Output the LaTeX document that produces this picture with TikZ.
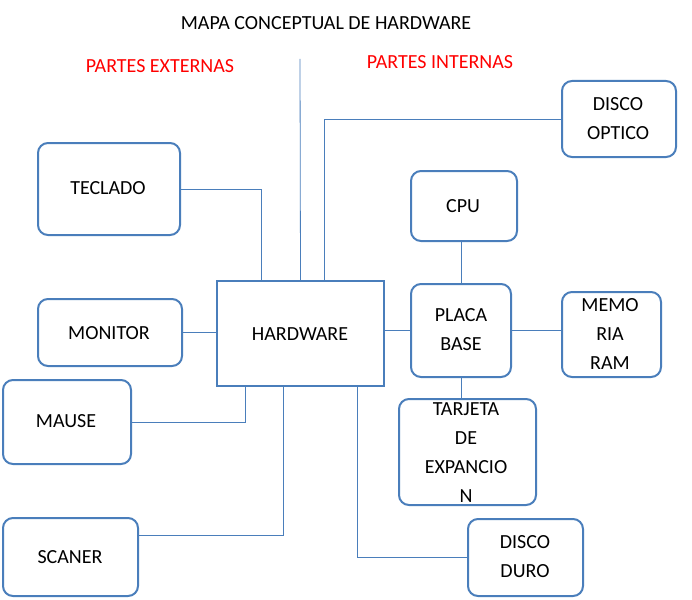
\documentclass[tikz,border=0pt]{standalone}
\usepackage{fontspec}
\setmainfont{Carlito}
\begin{document}
\begin{tikzpicture}[x=1pt,y=-1pt,
  bx/.style={draw=boxblue,line width=2pt,rounded corners=10pt,inner sep=0pt},
  hw/.style={draw=boxblue,line width=2.5pt,inner sep=0pt},
  tx/.style={font=\fontsize{20}{29}\selectfont,align=center,inner sep=0pt},
  ln/.style={draw=lineblue,line width=0.8pt}]
\definecolor{boxblue}{HTML}{4A7EBB}
\definecolor{lineblue}{HTML}{4A7EBB}
\useasboundingbox (0,0) rectangle (692,599);
\node[tx] (title) at (326,23) {MAPA CONCEPTUAL DE HARDWARE};
\node[tx,text=red] (ext) at (160,66) {PARTES EXTERNAS};
\node[tx,text=red] (int) at (440,62) {PARTES INTERNAS};
\coordinate (top) at (300,59);
% boxes
\node[hw,minimum width=167,minimum height=105] (hw) at (300.5,333.5) {};
\node[bx,minimum width=142,minimum height=92] (tec) at (109,189) {};
\node[bx,minimum width=144,minimum height=67] (mon) at (110,332.5) {};
\node[bx,minimum width=128,minimum height=84] (mau) at (67,422) {};
\node[bx,minimum width=135,minimum height=78] (sca) at (70.5,557) {};
\node[bx,minimum width=114,minimum height=76] (dop) at (619,119) {};
\node[bx,minimum width=106,minimum height=70] (cpu) at (464,206) {};
\node[bx,minimum width=100,minimum height=93] (pla) at (461,330.5) {};
\node[bx,minimum width=99,minimum height=85] (ram) at (611.5,334.5) {};
\node[bx,minimum width=137,minimum height=106] (tar) at (467.5,452) {};
\node[bx,minimum width=115,minimum height=77] (ddu) at (525.5,557.5) {};
% texts
\node[tx] (ttec) at (108,188) {TECLADO};
\node[tx] (tmon) at (109,333) {MONITOR};
\node[tx] (tmau) at (66,421) {MAUSE};
\node[tx] (tsca) at (70,557) {SCANER};
\node[tx] (thw) at (300,334) {HARDWARE};
\node[tx] (tdop) at (618,119) {DISCO\\OPTICO};
\node[tx] (tcpu) at (463,206) {CPU};
\node[tx] (tpla) at (461,330) {PLACA\\BASE};
\node[tx] (tram) at (610,334) {MEMO\\RIA\\RAM};
\node[tx] (ttar) at (466,453) {TARJETA\\DE\\EXPANCIO\\N};
\node[tx] (tddu) at (525,557) {DISCO\\DURO};
% connectors
\draw[ln] (top) -- (hw.north);
\draw[ln] (dop.west) -- (324,119) -- (324,281);
\draw[ln] (tec.east) -- (261,189) -- (261,281);
\draw[ln] (mon.east) -- (hw.west |- mon.east);
\draw[ln] (mau.east) -- (245,422) -- (245,386);
\draw[ln] (sca.east |- 0,535) -- (283,535) -- (283,386);
\draw[ln] (ddu.west) -- (357,557.5) -- (357,386);
\draw[ln] (hw.east |- pla.west) -- (pla.west);
\draw[ln] (cpu.south -| pla.north) -- (pla.north);
\draw[ln] (pla.east) -- (ram.west |- pla.east);
\draw[ln] (pla.south) -- (pla.south |- tar.north);
\end{tikzpicture}
\end{document}
